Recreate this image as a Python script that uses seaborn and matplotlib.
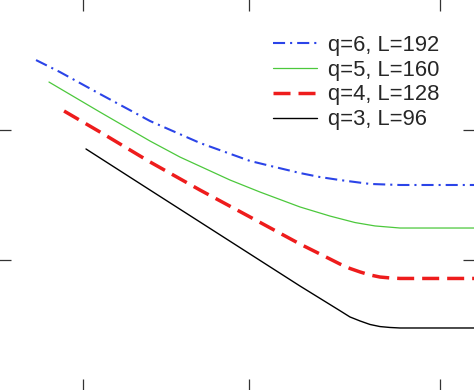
import matplotlib
matplotlib.use("Agg")
import matplotlib.pyplot as plt
import seaborn as sns

# curves (arbitrary units, no tick labels shown)
x_q6 = [-0.283, -0.139, 0.102, 0.404, 0.705, 1.006, 1.157, 1.307, 1.428, 1.548, 1.729, 1.910, 2.392]
y_q6 = [2.538, 2.446, 2.277, 2.069, 1.900, 1.762, 1.715, 1.669, 1.638, 1.615, 1.585, 1.577, 1.577]

x_q5 = [-0.205, 0.102, 0.404, 0.584, 0.886, 1.066, 1.307, 1.488, 1.639, 1.759, 1.910, 2.392]
y_q5 = [2.369, 2.138, 1.915, 1.792, 1.615, 1.523, 1.408, 1.338, 1.288, 1.262, 1.246, 1.246]

x_q4 = [-0.114, 0.102, 0.404, 0.705, 1.006, 1.307, 1.428, 1.548, 1.608, 1.669, 1.729, 1.789, 1.849, 1.910, 2.392]
y_q4 = [2.146, 1.985, 1.754, 1.538, 1.331, 1.123, 1.046, 0.969, 0.935, 0.908, 0.885, 0.869, 0.862, 0.858, 0.858]

x_q3 = [0.018, 0.404, 0.705, 1.006, 1.307, 1.548, 1.608, 1.669, 1.729, 1.789, 1.849, 1.910, 2.392]
y_q3 = [1.854, 1.538, 1.292, 1.046, 0.800, 0.610, 0.562, 0.531, 0.504, 0.488, 0.481, 0.477, 0.477]

labels = ["q=6, L=192", "q=5, L=160", "q=4, L=128", "q=3, L=96"]
x_ticks = [0, 1, 2.151]
y_ticks = [1, 2]

sns.set_style("white")
plt.rcParams["font.family"] = ["Liberation Sans", "DejaVu Sans"]

fig = plt.figure(figsize=(4.74, 3.9), dpi=100)
ax = fig.add_axes([-3 / 474, -3 / 390, 480 / 474, 396 / 390])

sns.lineplot(x=x_q6, y=y_q6, ax=ax, color="#2b44e8", lw=1.5,
             linestyle=(0, (5.8, 2.4, 1, 2.4)), label=labels[0])
sns.lineplot(x=x_q5, y=y_q5, ax=ax, color="#4cc83c", lw=0.9, label=labels[1])
sns.lineplot(x=x_q4, y=y_q4, ax=ax, color="#ee1c1c", lw=2.5,
             linestyle=(0, (4.9, 2.3)), label=labels[2])
sns.lineplot(x=x_q3, y=y_q3, ax=ax, color="black", lw=1.0, label=labels[3])

ax.set_xlim(-86 / 166, 394 / 166)
ax.set_ylim(-3 / 130, 393 / 130)
ax.set_xticks(x_ticks)
ax.set_yticks(y_ticks)
ax.tick_params(direction="in", length=10, width=0.9, color="#333333",
               top=True, right=True, bottom=True, left=True,
               labelbottom=False, labelleft=False)
for s in ax.spines.values():
    s.set_color("#333333")

ax.legend(loc="upper left", bbox_to_anchor=(273 / 474, 1 - 35 / 390),
          bbox_transform=fig.transFigure, frameon=False, fontsize=15.8,
          handlelength=2.0, handletextpad=0.5, labelspacing=0.17,
          borderpad=0, borderaxespad=0)

fig.savefig("out.png", dpi=100)
